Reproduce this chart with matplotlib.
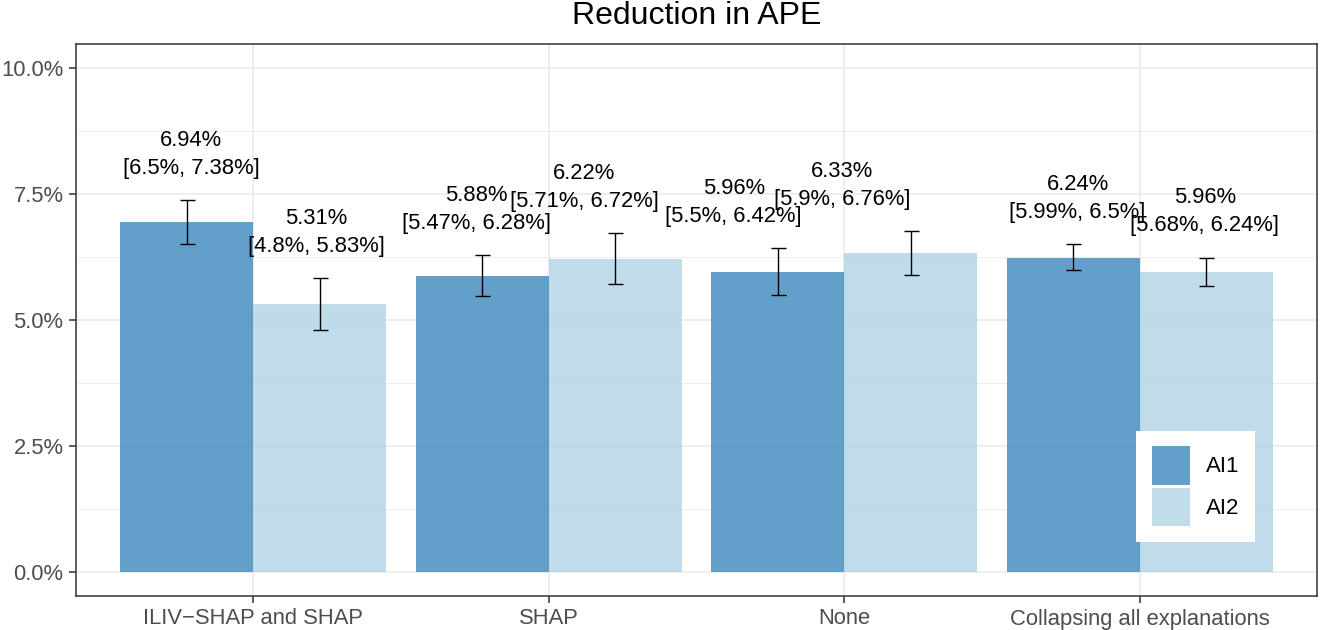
import matplotlib
matplotlib.use("Agg")
import matplotlib.pyplot as plt
import matplotlib.patches as mpatches
import numpy as np

plt.rcParams['font.family'] = ['Liberation Sans', 'DejaVu Sans']

categories = ["ILIV\u2212SHAP and SHAP", "SHAP", "None", "Collapsing all explanations"]
series = ["AI1", "AI2"]
ai1_mean = [6.94, 5.88, 5.96, 6.24]
ai1_low = [6.5, 5.47, 5.5, 5.99]
ai1_high = [7.38, 6.28, 6.42, 6.5]
ai2_mean = [5.31, 6.22, 6.33, 5.96]
ai2_low = [4.8, 5.71, 5.9, 5.68]
ai2_high = [5.83, 6.72, 6.76, 6.24]
ai1_label_low = ["6.5%", "5.47%", "5.5%", "5.99%"]
ai1_label_high = ["7.38%", "6.28%", "6.42%", "6.5%"]
ai2_label_low = ["4.8%", "5.71%", "5.9%", "5.68%"]
ai2_label_high = ["5.83%", "6.72%", "6.76%", "6.24%"]
# horizontal nudges of the labels (data units), as seen in the reference
ai1_nudge = [0.015, -0.02, -0.149, 0.015]
ai2_nudge = [-0.012, -0.105, -0.233, -0.005]

base_colors = ["#1F78B4", "#A6CEE3"]
alpha = 0.7

W, H = 1321, 630
fig = plt.figure(figsize=(W / 100, H / 100), dpi=100)
ax = fig.add_axes([76 / W, 1 - 596 / H, (1317 - 76) / W, (596 - 44) / H])

x = np.arange(1, len(categories) + 1)
bw = 0.45

ax.set_xlim(0.4, 4.6)
ax.set_ylim(-0.477, 10.477)

# grid
for yv in [1.25, 3.75, 6.25, 8.75]:
    ax.axhline(yv, color="#ebebeb", lw=0.6, zorder=0)
for yv in [0, 2.5, 5, 7.5, 10]:
    ax.axhline(yv, color="#ebebeb", lw=1.2, zorder=0)
for xv in x:
    ax.axvline(xv, color="#ebebeb", lw=1.2, zorder=0)

groups = [
    (ai1_mean, ai1_low, ai1_high, ai1_label_low, ai1_label_high, ai1_nudge, -bw / 2),
    (ai2_mean, ai2_low, ai2_high, ai2_label_low, ai2_label_high, ai2_nudge, bw / 2),
]
for i, (m, lo, hi, llo, lhi, nud, off) in enumerate(groups):
    xs = x + off
    ax.bar(xs, m, width=bw, color=base_colors[i], alpha=alpha, zorder=2, linewidth=0)
    m_a = np.array(m)
    ax.errorbar(xs, m_a, yerr=[m_a - np.array(lo), np.array(hi) - m_a], fmt="none",
                ecolor="black", elinewidth=1.0, capsize=5.4, capthick=1.0, zorder=3)
    for j in range(len(categories)):
        ax.text(xs[j] + nud[j], hi[j] + 0.52, f"{m[j]:.2f}%\n[{llo[j]}, {lhi[j]}]",
                ha="center", va="baseline", multialignment="center",
                fontsize=15.8, color="black", linespacing=1.46, zorder=4)

ax.set_xticks(x)
ax.set_xticklabels(categories)
ax.set_yticks([0, 2.5, 5, 7.5, 10])
ax.set_yticklabels(["0.0%", "2.5%", "5.0%", "7.5%", "10.0%"])
ax.tick_params(axis="both", colors="#333333", labelcolor="#4d4d4d", labelsize=15.8,
               length=5, width=1.1, pad=4)

for s in ax.spines.values():
    s.set_color("#333333")
    s.set_linewidth(1.1)
    s.set_zorder(5)

fig.text((76 + 1317) / 2 / W, 1 - 24 / H, "Reduction in APE", ha="center", va="baseline",
         fontsize=23, color="black")

handles = [mpatches.Patch(facecolor=c, alpha=alpha, edgecolor="none") for c in base_colors]
leg = ax.legend(handles, series, loc="lower left",
                bbox_to_anchor=((1136 - 76) / 1241, (596 - 542) / 552),
                frameon=True, fancybox=False, fontsize=16, handlelength=1.75,
                handleheight=2.3, labelspacing=0.13, handletextpad=0.7,
                borderpad=0.7, borderaxespad=0)
leg.get_frame().set_facecolor("white")
leg.get_frame().set_edgecolor("none")
leg.get_frame().set_alpha(1)
leg.set_zorder(6)

fig.savefig("out.png", dpi=100)
